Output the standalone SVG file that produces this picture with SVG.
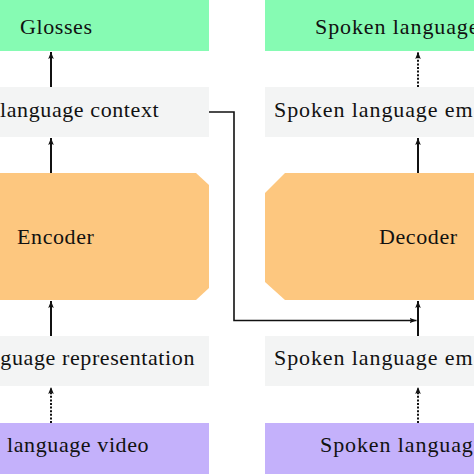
<svg xmlns="http://www.w3.org/2000/svg" width="474" height="474" viewBox="0 0 474 474">
<style>
.out{fill:#86fbb3}
.emb{fill:#f3f4f4}
.blk{fill:#fdc77f}
.inp{fill:#c4b1fb}
text{font-family:"Liberation Serif","Times New Roman",serif;font-size:22px;letter-spacing:0.6px;fill:#111}
text.r{letter-spacing:0.9px}
.arr{stroke:#111;stroke-width:2;fill:none;marker-end:url(#ah)}
.dot{stroke-dasharray:2,1.6}
.con{stroke:#111;stroke-width:1.6;fill:none;marker-end:url(#ah)}
</style>
<defs>
<marker id="ah" markerUnits="userSpaceOnUse" markerWidth="8" markerHeight="8" viewBox="0 0 8 8" refX="7" refY="4" orient="auto">
<path d="M0,1.2 L7,4 L0,6.8 L1.5,4 Z" fill="#111"/>
</marker>
</defs>
<rect width="474" height="474" fill="#fff"/>
<g id="glosses"><rect class="out" x="-10" y="-10" width="219" height="61"/><text x="20" y="34">Glosses</text></g>
<g id="sign-context"><rect class="emb" x="-10" y="87" width="219" height="50"/><text x="0" y="117">language context</text></g>
<g id="encoder"><polygon class="blk" points="-10,173 196,173 209,185 209,288 196,300 -10,300"/><text x="17" y="244">Encoder</text></g>
<g id="sign-representation"><rect class="emb" x="-10" y="336" width="219" height="50"/><text x="195" y="365" text-anchor="end">guage representation</text></g>
<g id="sign-video"><rect class="inp" x="-10" y="423" width="219" height="61"/><text x="7" y="452">language video</text></g>
<g id="spoken-output"><rect class="out" x="265" y="-10" width="219" height="61"/><text class="r" x="315" y="34">Spoken language</text></g>
<g id="spoken-embedding-out"><rect class="emb" x="265" y="87" width="219" height="50"/><text class="r" x="274" y="117">Spoken language em</text></g>
<g id="decoder"><polygon class="blk" points="285,173 484,173 484,300 285,300 265,282 265,193"/><text x="379" y="244">Decoder</text></g>
<g id="spoken-embedding-in"><rect class="emb" x="265" y="336" width="219" height="50"/><text class="r" x="274" y="365">Spoken language em</text></g>
<g id="spoken-input"><rect class="inp" x="265" y="423" width="219" height="61"/><text class="r" x="320" y="452">Spoken languag</text></g>
<g id="connectors">
<line class="arr" x1="51" y1="87" x2="51" y2="52"/>
<line class="arr" x1="51" y1="173" x2="51" y2="138"/>
<line class="arr" x1="51" y1="336" x2="51" y2="301"/>
<line class="arr dot" x1="51" y1="423" x2="51" y2="387"/>
<line class="arr dot" x1="418" y1="87" x2="418" y2="52"/>
<line class="arr" x1="418" y1="173" x2="418" y2="138"/>
<line class="arr" x1="418" y1="336" x2="418" y2="301"/>
<line class="arr dot" x1="418" y1="423" x2="418" y2="387"/>
<path class="con" d="M209,112 H234 V320.5 H416.5"/>
</g>
</svg>
